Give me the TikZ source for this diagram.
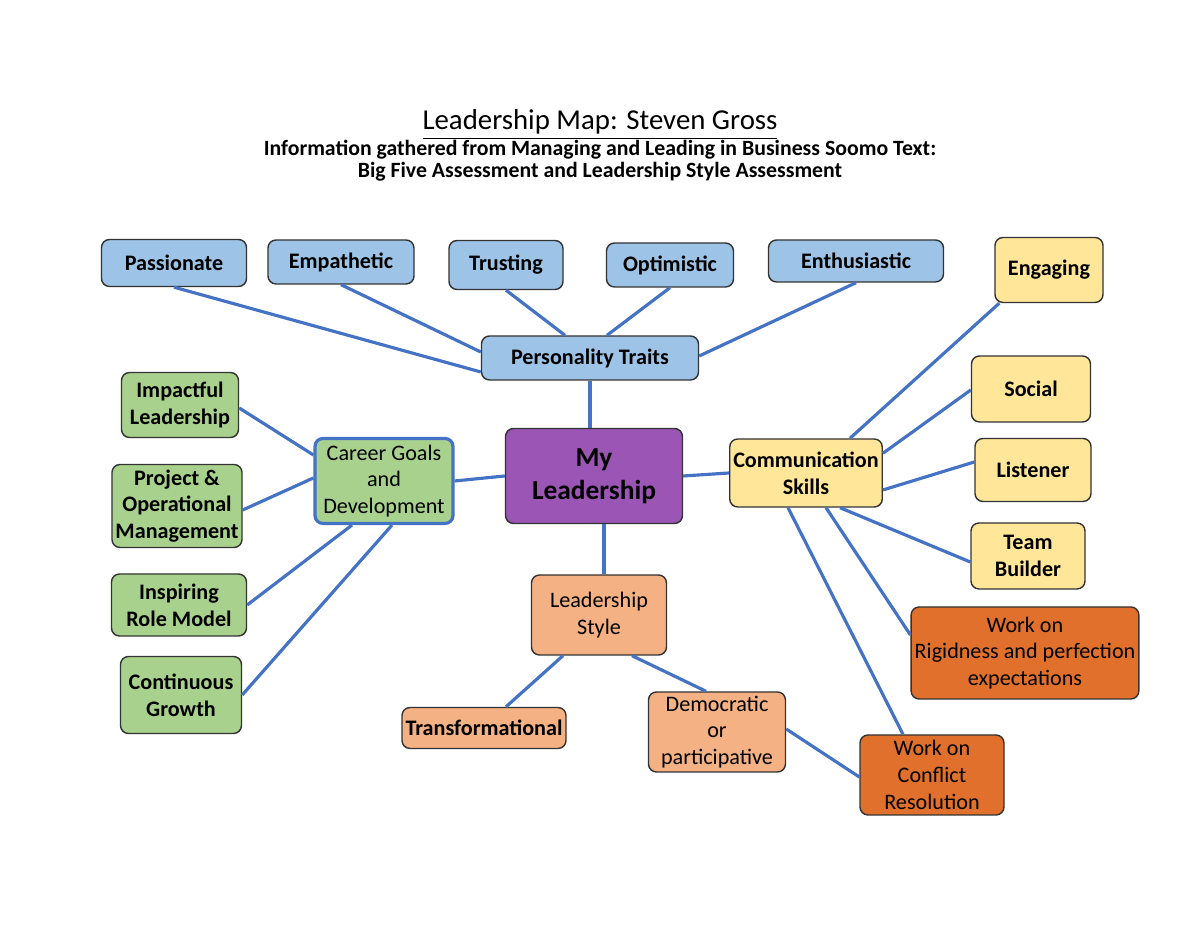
\documentclass[tikz,border=0pt]{standalone}
\usepackage{fontspec}
\setmainfont{Carlito}
\usepackage{xcolor}
\definecolor{trait}{HTML}{9DC3E6}
\definecolor{traitline}{HTML}{41719C}
\definecolor{link}{HTML}{4472C4}
\definecolor{core}{HTML}{9B55B5}
\definecolor{goal}{HTML}{A9D18E}
\definecolor{style}{HTML}{F4B183}
\definecolor{comm}{HTML}{FFE699}
\definecolor{work}{HTML}{E0702C}
\usetikzlibrary{positioning}
\tikzset{
  box/.style={draw=black!80, line width=0.4pt, rounded corners=0.08cm, align=center,
    font=\fontsize{6.3}{7.6}\selectfont\bfseries, inner sep=1pt},
  link/.style={draw=link, line width=0.9pt}
}
\begin{document}
\begin{tikzpicture}
\useasboundingbox (0,0) rectangle (12,9.27);

% Title
\node (title) at (6,8.02) {\fontsize{8.2}{9}\selectfont\underline{Leadership Map: Steven Gross}};
\node[font=\fontsize{6.2}{7}\selectfont\bfseries] (sub1) at (6,7.77) {Information gathered from Managing and Leading in Business Soomo Text:};
\node[font=\fontsize{6.2}{7}\selectfont\bfseries] (sub2) at (6,7.55) {Big Five Assessment and Leadership Style Assessment};

% Personality traits
\node[box, fill=trait, minimum width=1.45cm, minimum height=0.47cm] (pas) at (1.74,6.64) {Passionate};
\node[box, fill=trait, minimum width=1.46cm, minimum height=0.44cm] (emp) at (3.41,6.65) {Empathetic};
\node[box, fill=trait, minimum width=1.14cm, minimum height=0.49cm] (tru) at (5.06,6.62) {Trusting};
\node[box, fill=trait, minimum width=1.27cm, minimum height=0.44cm] (opt) at (6.70,6.62) {Optimistic};
\node[box, fill=trait, minimum width=1.75cm, minimum height=0.42cm] (ent) at (8.56,6.66) {Enthusiastic};
\node[box, fill=trait, minimum width=2.17cm, minimum height=0.44cm] (pt) at (5.90,5.69) {Personality Traits};

% Centre
\node[box, fill=core, minimum width=1.77cm, minimum height=0.95cm,
  font=\fontsize{7.8}{9.5}\selectfont\bfseries] (ml) at (5.94,4.51) {My\\Leadership};

% Career goals
\node[box, fill=goal, draw=link, line width=0.9pt, minimum width=1.38cm, minimum height=0.85cm,
  font=\fontsize{6.3}{7.6}\selectfont] (cg) at (3.84,4.46) {Career Goals\\and\\Development};
\node[box, fill=goal, minimum width=1.17cm, minimum height=0.65cm] (imp) at (1.80,5.22) {Impactful\\Leadership};
\node[box, fill=goal, minimum width=1.30cm, minimum height=0.83cm] (proj) at (1.77,4.21) {Project \&\\Operational\\Management};
\node[box, fill=goal, minimum width=1.35cm, minimum height=0.62cm] (insp) at (1.79,3.22) {Inspiring\\Role Model};
\node[box, fill=goal, minimum width=1.21cm, minimum height=0.77cm] (cont) at (1.81,2.32) {Continuous\\Growth};

% Communication
\node[box, fill=comm, minimum width=1.51cm, minimum height=0.68cm] (cs) at (8.06,4.54) {Communication\\Skills};
\node[box, fill=comm, minimum width=1.08cm, minimum height=0.65cm] (eng) at (10.49,6.57) {Engaging};
\node[box, fill=comm, minimum width=1.19cm, minimum height=0.66cm] (soc) at (10.31,5.38) {Social};
\node[box, fill=comm, minimum width=1.16cm, minimum height=0.63cm] (lis) at (10.33,4.57) {Listener};
\node[box, fill=comm, minimum width=1.14cm, minimum height=0.66cm] (team) at (10.28,3.71) {Team\\Builder};
\node[box, fill=work, minimum width=2.21cm, minimum height=0.92cm,
  font=\fontsize{6.3}{7.6}\selectfont] (rig) at (10.25,2.74) {Work on\\Rigidness and perfection\\expectations};
\node[box, fill=work, minimum width=1.44cm, minimum height=0.80cm,
  font=\fontsize{6.3}{7.6}\selectfont] (conf) at (9.32,1.52) {Work on\\Conflict\\Resolution};

% Leadership style
\node[box, fill=style, minimum width=1.35cm, minimum height=0.80cm,
  font=\fontsize{6.3}{7.6}\selectfont] (ls) at (5.99,3.12) {Leadership\\Style};
\node[box, fill=style, minimum width=1.57cm, minimum height=0.41cm] (trf) at (4.84,1.99) {Transformational};
\node[box, fill=style, minimum width=1.37cm, minimum height=0.80cm,
  font=\fontsize{6.3}{7.6}\selectfont] (dem) at (7.17,1.95) {Democratic\\or\\participative};

% Connectors
\draw[link] (pas.south) -- ([yshift=-0.14cm]pt.west);
\draw[link] (emp.south) -- ([yshift=0.06cm]pt.west);
\draw[link] (tru.south) -- ([xshift=-0.25cm]pt.north);
\draw[link] (opt.south) -- ([xshift=0.17cm]pt.north);
\draw[link] (ent.south) -- ([yshift=0.02cm]pt.east);
\draw[link] (pt.south) -- (ml.north -| pt.south);
\draw[link] (ml.west) -- (cg.east);
\draw[link] (ml.east) -- (cs.west);
\draw[link] ([xshift=0.1cm]ml.south) -- ([xshift=0.05cm]ls.north);
\draw[link] ([yshift=-0.03cm]imp.east) -- ([yshift=0.26cm]cg.west);
\draw[link] ([yshift=-0.04cm]proj.east) -- ([yshift=0.03cm]cg.west);
\draw[link] (insp.east) -- ([xshift=-0.32cm]cg.south);
\draw[link] (cont.east) -- ([xshift=0.08cm]cg.south);
\draw[link] ([xshift=0.44cm]cs.north) -- ([xshift=0.05cm]eng.south west);
\draw[link] ([yshift=-0.15cm]cs.north east) -- ([yshift=-0.01cm]soc.west);
\draw[link] ([yshift=-0.17cm]cs.east) -- ([yshift=0.08cm]lis.west);
\draw[link] ([xshift=0.34cm]cs.south) -- ([yshift=-0.06cm]team.west);
\draw[link] ([xshift=0.20cm]cs.south) -- ([yshift=0.18cm]rig.west);
\draw[link] ([xshift=-0.18cm]cs.south) -- ([xshift=-0.29cm]conf.north);
\draw[link] ([xshift=-0.36cm]ls.south) -- ([xshift=0.22cm]trf.north);
\draw[link] ([xshift=0.33cm]ls.south) -- ([xshift=-0.11cm]dem.north);
\draw[link] ([yshift=0.03cm]dem.east) -- ([yshift=-0.02cm]conf.west);
\end{tikzpicture}
\end{document}
